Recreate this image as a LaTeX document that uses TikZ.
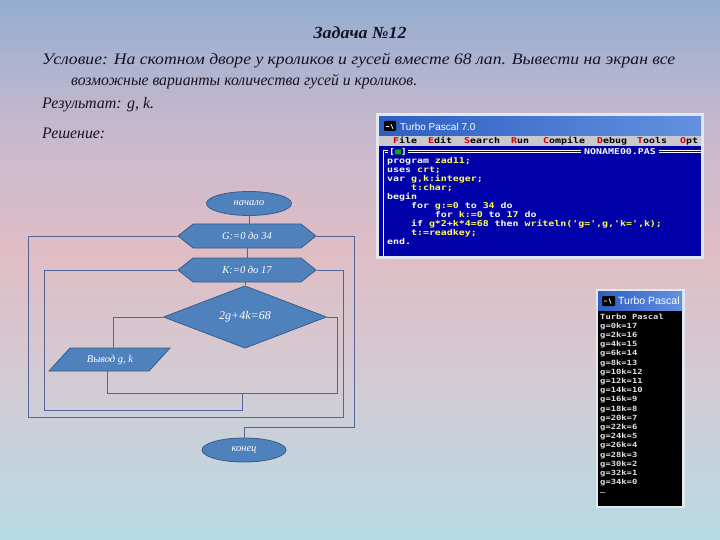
\documentclass[tikz,border=0pt]{standalone}
\usepackage{graphicx}
\usepackage{fontspec}
\setmainfont{Liberation Serif}
\setmonofont{DejaVu Sans Mono}[FakeStretch=1.24]
\newfontfamily\winfont{Liberation Sans}
\usetikzlibrary{shapes.geometric,shapes.symbols}
\definecolor{bgt}{RGB}{148,173,208}
\definecolor{bgm1}{RGB}{196,184,206}
\definecolor{bgpink}{RGB}{224,189,197}
\definecolor{bgm2}{RGB}{210,204,212}
\definecolor{bgb}{RGB}{182,218,228}
\definecolor{txt}{RGB}{22,20,35}
\definecolor{fc}{RGB}{79,129,189}
\definecolor{fd}{RGB}{56,93,138}
\definecolor{lc}{RGB}{85,100,150}
\definecolor{tb1}{RGB}{45,95,195}
\definecolor{tb2}{RGB}{100,145,222}
\definecolor{menugray}{RGB}{200,200,205}
\definecolor{dosblue}{RGB}{0,0,168}
\definecolor{dosyellow}{RGB}{255,255,85}
\definecolor{doswhite}{RGB}{250,250,250}
\definecolor{dosred}{RGB}{200,0,0}
\definecolor{conwhite}{RGB}{225,225,225}
\definecolor{frame}{RGB}{226,231,240}
\pgfdeclareverticalshading{bgsh}{100bp}{color(0bp)=(bgb); color(25bp)=(bgb); color(38.9bp)=(bgm2); color(51.85bp)=(bgpink); color(63.9bp)=(bgm1); color(75bp)=(bgt); color(100bp)=(bgt)}
\newcommand{\kw}[1]{\textcolor{doswhite}{#1}}
\newcommand{\hk}[2]{\textcolor{dosred}{#1}#2}
\begin{document}
\begin{tikzpicture}[x=1pt,y=-1pt,
  shp/.style={fill=fc,draw=fd,line width=0.8pt,text=white,font=\itshape\fontsize{10.5}{12}\selectfont,inner sep=0pt},
  term/.style={shp,ellipse,minimum width=85pt,minimum height=24pt},
  loopbox/.style={shp,signal,signal to=west and east,signal pointer angle=77,minimum width=138pt,minimum height=24pt},
  cond/.style={shp,diamond,minimum width=163pt,minimum height=40pt,font=\itshape\fontsize{12}{14}\selectfont},
  conn/.style={draw=lc,line width=0.7pt},
  para/.style={anchor=west,inner sep=0pt,text=txt,font=\itshape\fontsize{16}{19}\selectfont},
  code/.style={anchor=base west,inner sep=0pt,text=dosyellow,font=\ttfamily\bfseries\fontsize{8}{9}\selectfont},
  menu/.style={anchor=base west,inner sep=0pt,text=black,font=\ttfamily\bfseries\fontsize{8}{9}\selectfont},
  con/.style={anchor=base west,inner sep=0pt,text=conwhite,font=\ttfamily\bfseries\fontsize{7.1}{8}\selectfont}]
\useasboundingbox (0,0) rectangle (720,540);
\shade[shading=bgsh] (0,0) rectangle (720,540);

% texts
\node[text=txt,font=\bfseries\itshape\fontsize{17}{20}\selectfont,inner sep=0pt] (title) at (360,33) {\resizebox{93pt}{\height}{Задача №12}};
\node[para] (l1) at (42,61) {\resizebox{633pt}{\height}{Условие: На скотном дворе у кроликов и гусей вместе 68 лап. Вывести на экран все}};
\node[para] (l2) at (71,82) {\resizebox{346pt}{\height}{возможные варианты количества гусей и кроликов.}};
\node[para] (l3) at (42,105) {\resizebox{112pt}{\height}{Результат: g, k.}};
\node[para] (l4) at (42,133) {\resizebox{63pt}{\height}{Решение:}};

% flowchart
\node[term] (S) at (249,203.5) {начало};
\node[loopbox] (G) at (247,236) {G:=0 до 34};
\node[loopbox] (K) at (247,270) {K:=0 до 17};
\node[cond] (D) at (245,317) {2g+4k=68};
\filldraw[fill=fc,draw=fd,line width=0.8pt] (49,371) -- (70,348) -- (170,348) -- (149,371) -- cycle;
\node[text=white,font=\itshape\fontsize{10.5}{12}\selectfont,minimum width=100pt,minimum height=23pt,inner sep=0pt] (P) at (110,359.5) {Вывод g, k};
\node[term,minimum width=84pt] (E) at (244,450) {конец};

\coordinate (c1) at (337,393);
\coordinate (j2) at (242,393);
\coordinate (c2) at (44,410);
\coordinate (c3) at (343,417);
\coordinate (c4) at (28,417);
\coordinate (c5) at (354,427);
\draw[conn] (S.south) -- (S.south |- G.north);
\draw[conn] (G.south) -- (G.south |- K.north);
\draw[conn] (D.north) -- (D.north |- K.south);
\draw[conn] (D.west) -| ([xshift=3pt]P.north);
\draw[conn] (D.east) -| (c1) -| ([xshift=-3pt]P.south);
\draw[conn] (j2) |- (c2) |- (K.west);
\draw[conn] (K.east) -| (c3) -- (c4) |- (G.west);
\draw[conn] (G.east) -| (c5) -| (E.north);

% Turbo Pascal editor window
\fill[frame] (376,113) rectangle (704,259);
\shade[left color=tb1,right color=tb2] (379,117) rectangle (701,136);
\fill[black,rounded corners=1pt] (384,121) rectangle (396,131);
\draw[white,line width=0.7pt] (386,126.5) -- (389,126.5) (391,124) -- (393,129);
\node[anchor=west,inner sep=0pt,text=white,font=\winfont\fontsize{10}{12}\selectfont] (t1) at (400,126.5) {Turbo Pascal 7.0};
\fill[menugray] (379,136) rectangle (701,146);
\node[menu] (m1) at (393,144) {\hk{F}{ile}};
\node[menu] (m2) at (428,144) {\hk{E}{dit}};
\node[menu] (m3) at (464,144) {\hk{S}{earch}};
\node[menu] (m4) at (511,144) {\hk{R}{un}};
\node[menu] (m5) at (543,144) {\hk{C}{ompile}};
\node[menu] (m6) at (597,144) {\hk{D}{ebug}};
\node[menu] (m7) at (637,144) {\hk{T}{ools}};
\node[menu] (m8) at (680,144) {\hk{O}{pt}};
\fill[dosblue] (379,146) rectangle (701,256);
\draw[draw=doswhite,line width=0.6pt,double=dosblue,double distance=0.9pt] (384,256) -- (384,151.5) -- (701,151.5);
\node[fill=dosblue,inner xsep=1pt,inner ysep=0.5pt,text=doswhite,font=\ttfamily\bfseries\fontsize{8}{9}\selectfont] (btn) at (398,151.5) {[\textcolor{green!70!black}{■}]};
\node[fill=dosblue,inner xsep=3pt,inner ysep=0.5pt,text=doswhite,font=\ttfamily\bfseries\fontsize{8}{9}\selectfont] (fname) at (620,151.5) {NONAME00.PAS};
\node[code] (p1) at (387,163.4) {\kw{program} zad11;};
\node[code] (p2) at (387,172.4) {\kw{uses} crt;};
\node[code] (p3) at (387,181.4) {\kw{var} g,k:integer;};
\node[code] (p4) at (387,190.4) {\phantom{xxxx}t:char;};
\node[code] (p5) at (387,199.4) {\kw{begin}};
\node[code] (p6) at (387,208.4) {\phantom{xxxx}\kw{for} g:=0 \kw{to} 34 \kw{do}};
\node[code] (p7) at (387,217.4) {\phantom{xxxxxxxx}\kw{for} k:=0 \kw{to} 17 \kw{do}};
\node[code] (p8) at (387,226.4) {\phantom{xxxx}\kw{if} g*2+k*4=68 \kw{then} writeln('g=',g,'k=',k);};
\node[code] (p9) at (387,235.4) {\phantom{xxxx}t:=readkey;};
\node[code] (p10) at (387,244.4) {\kw{end.}};

% Turbo Pascal output window
\fill[frame] (596,289) rectangle (685,508);
\shade[left color=tb1,right color=tb2] (598,291) rectangle (682,311);
\fill[black,rounded corners=1pt] (602,296) rectangle (615,306);
\draw[white,line width=0.7pt] (604,301) -- (607,301) (609,298.5) -- (611,303.5);
\node[anchor=west,inner sep=0pt,text=white,font=\winfont\fontsize{10.5}{12}\selectfont] (t2) at (618,301) {Turbo Pascal};
\fill[black] (598,311) rectangle (682,506);
\node[con] (o0) at (600,319) {Turbo Pascal};
\foreach \i in {0,...,17}{
  \pgfmathtruncatemacro{\gg}{2*\i}
  \pgfmathtruncatemacro{\kk}{17-\i}
  \node[con] (o\i x) at (600,{328.2+9.2*\i}) {g=\gg k=\kk};
}
\node[con] (cur) at (600,491) {\_};
\end{tikzpicture}
\end{document}
